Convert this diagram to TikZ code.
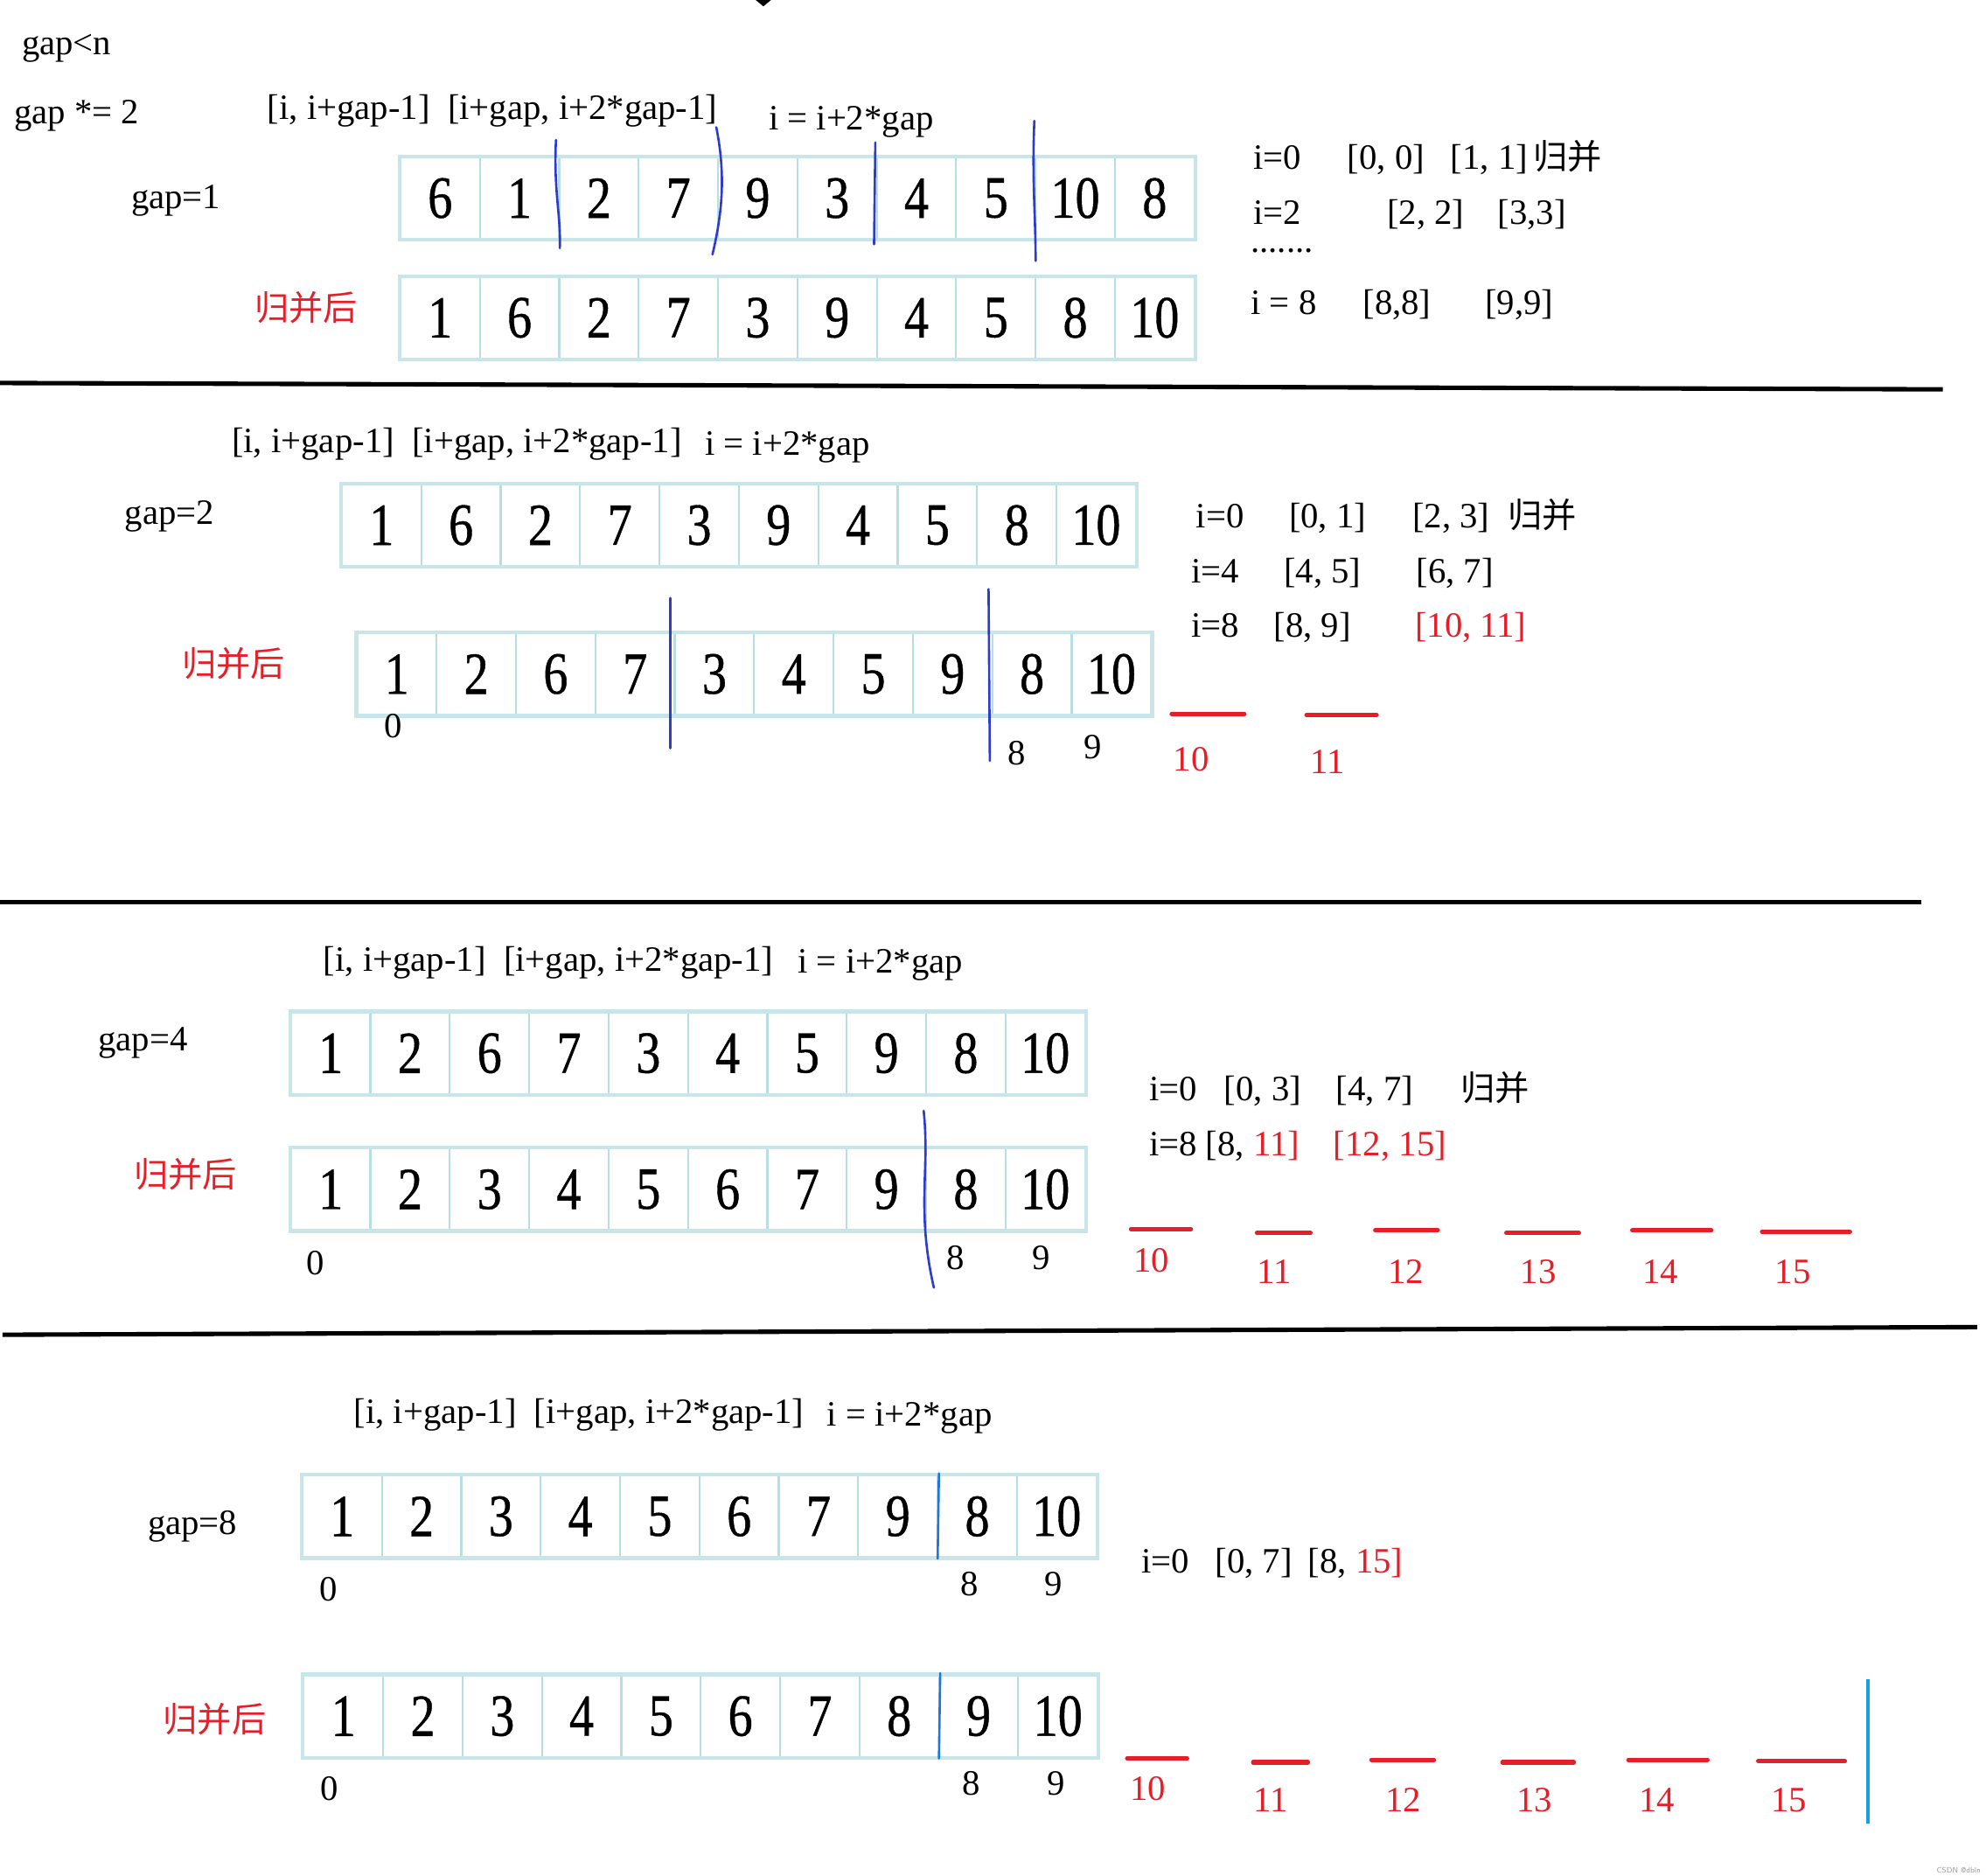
\documentclass[tikz,border=0pt]{standalone}
\usepackage{fontspec}
\setmainfont{Liberation Serif}
\newfontfamily\cellfont[FakeStretch=0.82,FakeBold=0.6]{Liberation Serif}
\newfontfamily\cjk{Noto Sans CJK SC}
\definecolor{redink}{RGB}{230,30,40}
\definecolor{blueink}{RGB}{45,60,205}
\definecolor{blueink2}{RGB}{30,120,220}
\definecolor{cyanink}{RGB}{20,160,225}
\definecolor{cellc}{RGB}{185,222,226}
\definecolor{framec}{RGB}{200,230,234}
\tikzset{
  lbl/.style={anchor=base west, inner sep=0pt, font=\fontsize{28}{34}\selectfont},
  cjklbl/.style={anchor=base west, inner sep=0pt, font=\cjk\fontsize{27}{34}\selectfont},
  cellbox/.style={draw=cellc, line width=1.5pt, fill=white, minimum width=62.4pt, minimum height=64pt, inner sep=0pt, anchor=north west, font=\cellfont\fontsize{47}{47}\selectfont},
  rowframe/.style={draw=framec, line width=3pt},
  handline/.style={draw=blueink, line width=1.8pt, line cap=round},
  handline2/.style={draw=blueink2, line width=1.8pt, line cap=round},
  reddash/.style={draw=redink, line width=3.5pt, line cap=round},
  sepline/.style={draw=black, line width=3.5pt},
}
\newcommand\cellrow[4]{%
  \foreach \v [count=\i] in {#4} {
    \node[cellbox] (#1c\i) at ({#2+(\i-1)*62.4},#3) {\v};
  }
  \draw[rowframe] (#1c1.north west) rectangle (#1c10.south east);
}
\begin{document}
\begin{tikzpicture}[x=1pt,y=-1pt]
\useasboundingbox[fill=white] (0,0) rectangle (1561,1474);
% tiny mark at top
\fill[black] (594,0) -- (606,0) -- (600,5) -- cycle;

% ---------------- section 1 ----------------
\node[lbl] (gapn) at (17,43) {gap<n};
\node[lbl] (gapmul) at (11,97) {gap *= 2};
\node[lbl] (h1a) at (210,94) {[i, i+gap-1]\ \ [i+gap, i+2*gap-1]};
\node[lbl] (h1b) at (604,102) {i = i+2*gap};
\node[lbl] (g1) at (103,164) {gap=1};
\cellrow{ra}{314}{123}{6,1,2,7,9,3,4,5,10,8}
\node[cjklbl, text=redink] (m1) at (200,252) {归并后};
\cellrow{rb}{314}{217}{1,6,2,7,3,9,4,5,8,10}
\draw[handline] (437,110) .. controls (435,150) and (441,170) .. (440,195);
\draw[handline] (563,100) .. controls (571,140) and (567,170) .. (560,200);
\draw[handline] (688,112) -- (687,192);
\draw[handline] (813,95) .. controls (811,140) and (814,170) .. (814,205);
\node[lbl] (s1a) at (985,133) {i=0};
\node[lbl] (s1b) at (1059,133) {[0, 0]};
\node[lbl] (s1c) at (1140,133) {[1, 1]};
\node[cjklbl] (s1d) at (1205,133) {归并};
\node[lbl] (s1e) at (985,176) {i=2};
\node[lbl] (s1f) at (1090,176) {[2, 2]};
\node[lbl] (s1g) at (1177,176) {[3,3]};
\node[lbl] (s1h) at (983,198) {.......};
\node[lbl] (s1i) at (983,247) {i = 8};
\node[lbl] (s1j) at (1071,247) {[8,8]};
\node[lbl] (s1k) at (1167,247) {[9,9]};
\draw[sepline] (0,301) -- (1527,306);

% ---------------- section 2 ----------------
\node[lbl] (h2a) at (182,356) {[i, i+gap-1]\ \ [i+gap, i+2*gap-1]};
\node[lbl] (h2b) at (554,358) {i = i+2*gap};
\node[lbl] (g2) at (98,412) {gap=2};
\cellrow{rc}{268}{380}{1,6,2,7,3,9,4,5,8,10}
\node[cjklbl, text=redink] (m2) at (143,532) {归并后};
\cellrow{rd}{280}{497}{1,2,6,7,3,4,5,9,8,10}
\draw[handline] (527,470) -- (527,588);
\draw[handline] (777,463) -- (778,598);
\node[lbl] (i2a) at (302,580) {0};
\node[lbl] (i2b) at (792,601) {8};
\node[lbl] (i2c) at (852,596) {9};
\node[lbl] (s2a) at (940,415) {i=0};
\node[lbl] (s2b) at (1013,415) {[0, 1]};
\node[lbl] (s2c) at (1110,415) {[2, 3]};
\node[cjklbl] (s2d) at (1185,415) {归并};
\node[lbl] (s2e) at (936,458) {i=4};
\node[lbl] (s2f) at (1009,458) {[4, 5]};
\node[lbl] (s2g) at (1113,458) {[6, 7]};
\node[lbl] (s2h) at (936,501) {i=8};
\node[lbl] (s2i) at (1001,501) {[8, 9]};
\node[lbl, text=redink] (s2j) at (1112,501) {[10, 11]};
\coordinate (d2a1) at (921,561); \coordinate (d2a2) at (978,561);
\coordinate (d2b1) at (1027,562); \coordinate (d2b2) at (1082,562);
\draw[reddash] (d2a1) -- (d2a2);
\draw[reddash] (d2b1) -- (d2b2);
\node[lbl, text=redink] (n2a) at (922,606) {10};
\node[lbl, text=redink] (n2b) at (1030,608) {11};
\draw[sepline] (0,709) -- (1510,709);

% ---------------- section 3 ----------------
\node[lbl] (h3a) at (254,763) {[i, i+gap-1]\ \ [i+gap, i+2*gap-1]};
\node[lbl] (h3b) at (627,765) {i = i+2*gap};
\node[lbl] (g3) at (77,826) {gap=4};
\cellrow{re}{228}{795}{1,2,6,7,3,4,5,9,8,10}
\node[cjklbl, text=redink] (m3) at (105,933) {归并后};
\cellrow{rf}{228}{902}{1,2,3,4,5,6,7,9,8,10}
\draw[handline] (726,873) .. controls (731,920) and (720,950) .. (734,1012);
\node[lbl] (i3a) at (241,1002) {0};
\node[lbl] (i3b) at (744,998) {8};
\node[lbl] (i3c) at (811,998) {9};
\node[lbl] (s3a) at (903,865) {i=0};
\node[lbl] (s3b) at (962,865) {[0, 3]};
\node[lbl] (s3c) at (1050,865) {[4, 7]};
\node[cjklbl] (s3d) at (1148,865) {归并};
\node[lbl] (s3e) at (903,908) {i=8 [8, \textcolor{redink}{11]}};
\node[lbl, text=redink] (s3f) at (1048,908) {[12, 15]};
\foreach \a/\b/\yy [count=\k] in {889/936/966, 988/1030/969, 1081/1130/967, 1184/1241/969, 1283/1345/967, 1385/1454/968} {
  \coordinate (d3s\k) at (\a,\yy); \coordinate (d3e\k) at (\b,\yy);
  \draw[reddash] (d3s\k) -- (d3e\k);
}
\node[lbl, text=redink] (n3a) at (891,1000) {10};
\node[lbl, text=redink] (n3b) at (988,1009) {11};
\node[lbl, text=redink] (n3c) at (1091,1009) {12};
\node[lbl, text=redink] (n3d) at (1195,1009) {13};
\node[lbl, text=redink] (n3e) at (1291,1009) {14};
\node[lbl, text=redink] (n3f) at (1395,1009) {15};
\draw[sepline] (2,1049) -- (1554,1043);

% ---------------- section 4 ----------------
\node[lbl] (h4a) at (278,1119) {[i, i+gap-1]\ \ [i+gap, i+2*gap-1]};
\node[lbl] (h4b) at (650,1121) {i = i+2*gap};
\node[lbl] (g4) at (116,1206) {gap=8};
\cellrow{rg}{237}{1159}{1,2,3,4,5,6,7,9,8,10}
\draw[handline2] (738,1158) -- (737,1225);
\node[lbl] (i4a) at (251,1258) {0};
\node[lbl] (i4b) at (755,1254) {8};
\node[lbl] (i4c) at (821,1254) {9};
\node[lbl] (s4a) at (897,1236) {i=0};
\node[lbl] (s4b) at (955,1236) {[0, 7]};
\node[lbl] (s4c) at (1028,1236) {[8, \textcolor{redink}{15]}};
\node[cjklbl, text=redink] (m4) at (128,1361) {归并后};
\cellrow{rh}{238}{1316}{1,2,3,4,5,6,7,8,9,10}
\draw[handline2] (739,1315) -- (738,1382);
\node[lbl] (i4d) at (252,1415) {0};
\node[lbl] (i4e) at (756,1411) {8};
\node[lbl] (i4f) at (823,1411) {9};
\foreach \a/\b/\yy [count=\k] in {886/933/1382, 985/1028/1385, 1078/1127/1383, 1181/1237/1385, 1280/1342/1383, 1382/1450/1384} {
  \coordinate (d4s\k) at (\a,\yy); \coordinate (d4e\k) at (\b,\yy);
  \draw[reddash] (d4s\k) -- (d4e\k);
}
\node[lbl, text=redink] (n4a) at (888,1415) {10};
\node[lbl, text=redink] (n4b) at (985,1424) {11};
\node[lbl, text=redink] (n4c) at (1089,1424) {12};
\node[lbl, text=redink] (n4d) at (1192,1424) {13};
\node[lbl, text=redink] (n4e) at (1288,1424) {14};
\node[lbl, text=redink] (n4f) at (1392,1424) {15};
\coordinate (cy1) at (1468,1320); \coordinate (cy2) at (1468,1433);
\draw[draw=cyanink, line width=3pt] (cy1) -- (cy2);
\node[anchor=base east, inner sep=0pt, text=black!40, font=\sffamily\fontsize{6}{7}\selectfont] (wm) at (1557,1472) {CSDN @dbln};
\end{tikzpicture}
\end{document}
